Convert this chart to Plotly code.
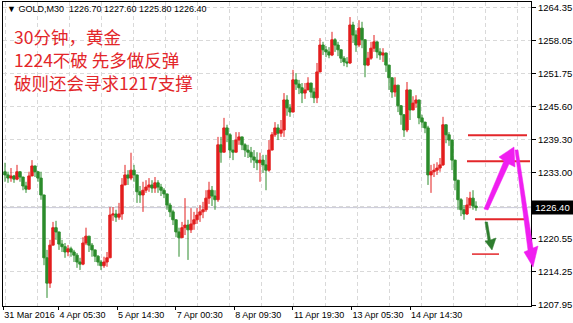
import plotly.graph_objects as go

# ---------------- data ----------------
first_open = 1233.2
close = [1232.6, 1232.0, 1232.4, 1231.8, 1233.2, 1232.2, 1230.5, 1229.9, 1232.4, 1234.3,
         1233.2, 1232.0, 1228.8, 1216.9, 1212.1, 1219.3, 1222.6, 1221.8, 1219.5, 1219.0,
         1218.0, 1218.6, 1218.0, 1217.4, 1216.1, 1215.7, 1219.7, 1221.0, 1219.3, 1218.4,
         1217.2, 1216.1, 1215.4, 1216.1, 1216.9, 1225.0, 1225.2, 1224.6, 1225.2, 1230.7,
         1232.6, 1232.0, 1233.5, 1232.6, 1229.4, 1228.8, 1229.7, 1230.3, 1230.7, 1230.1,
         1231.1, 1230.3, 1229.7, 1229.0, 1226.9, 1225.6, 1224.1, 1221.8, 1220.7, 1222.6,
         1223.1, 1222.2, 1223.3, 1224.1, 1225.0, 1225.6, 1226.0, 1228.2, 1229.7, 1228.6,
         1227.9, 1238.3, 1236.9, 1241.5, 1240.2, 1237.3, 1236.9, 1239.2, 1239.8, 1238.3,
         1237.3, 1236.9, 1236.0, 1235.4, 1234.9, 1235.4, 1234.5, 1233.5, 1237.3, 1240.2,
         1241.5, 1240.5, 1241.1, 1246.8, 1245.3, 1244.5, 1250.6, 1249.8, 1249.1, 1248.1,
         1248.7, 1250.0, 1248.3, 1247.2, 1252.1, 1257.2, 1256.3, 1255.9, 1255.3, 1258.2,
         1257.2, 1256.3, 1254.7, 1254.0, 1253.8, 1261.0, 1259.1, 1257.2, 1260.4, 1258.2,
         1253.4, 1254.7, 1256.6, 1257.8, 1255.9, 1255.3, 1255.7, 1253.4, 1251.0, 1248.3,
         1249.6, 1245.7, 1244.0, 1241.1, 1248.7, 1244.9, 1246.2, 1246.8, 1243.4, 1242.6,
         1241.5, 1232.6, 1233.2, 1233.5, 1233.9, 1234.5, 1242.1, 1240.2, 1239.2, 1235.4,
         1231.6, 1227.9, 1226.0, 1225.2, 1226.9, 1228.2, 1226.7, 1226.4]
high = [1234.9, 1233.2, 1233.9, 1232.6, 1234.5, 1233.2, 1231.6, 1231.3, 1233.2, 1235.4,
        1234.1, 1233.2, 1233.2, 1228.8, 1218.4, 1220.3, 1223.7, 1223.9, 1221.6, 1220.3,
        1219.7, 1219.3, 1219.0, 1218.4, 1217.8, 1216.9, 1220.8, 1222.6, 1220.7, 1219.7,
        1218.4, 1217.4, 1216.5, 1217.1, 1218.0, 1226.5, 1226.5, 1226.0, 1227.3, 1232.0,
        1234.5, 1233.5, 1236.8, 1234.5, 1231.6, 1230.5, 1231.3, 1231.6, 1232.0, 1231.6,
        1232.2, 1231.6, 1230.9, 1230.1, 1228.4, 1227.3, 1226.0, 1223.7, 1222.6, 1223.7,
        1228.2, 1224.1, 1226.3, 1225.6, 1226.3, 1226.9, 1227.5, 1229.7, 1231.3, 1230.5,
        1229.7, 1239.8, 1239.8, 1243.4, 1242.1, 1240.5, 1239.2, 1240.7, 1240.7, 1239.6,
        1238.6, 1238.3, 1237.9, 1237.3, 1236.9, 1236.8, 1236.4, 1236.4, 1239.2, 1240.7,
        1242.6, 1242.2, 1243.0, 1248.1, 1247.7, 1246.0, 1252.5, 1251.9, 1250.6, 1250.0,
        1250.0, 1251.1, 1249.4, 1249.1, 1253.8, 1258.5, 1257.8, 1257.0, 1256.8, 1259.7,
        1258.5, 1257.8, 1255.9, 1255.1, 1254.9, 1262.5, 1261.6, 1260.0, 1261.9, 1261.6,
        1258.2, 1255.9, 1257.8, 1259.1, 1257.8, 1256.6, 1256.6, 1254.7, 1253.2, 1250.6,
        1251.1, 1246.8, 1245.8, 1244.0, 1250.2, 1248.7, 1247.5, 1247.7, 1244.9, 1244.0,
        1242.6, 1241.9, 1234.5, 1234.7, 1235.0, 1235.8, 1243.6, 1242.1, 1240.7, 1238.3,
        1234.5, 1231.6, 1228.2, 1226.9, 1228.4, 1229.4, 1229.7, 1227.6]
low = [1231.3, 1231.1, 1231.3, 1231.1, 1231.6, 1231.3, 1229.7, 1229.2, 1230.7, 1232.6,
       1232.2, 1231.3, 1227.9, 1215.5, 1209.3, 1211.2, 1219.3, 1220.3, 1218.4, 1218.0,
       1216.9, 1217.2, 1217.1, 1216.1, 1215.0, 1214.6, 1215.5, 1219.3, 1218.0, 1217.1,
       1216.1, 1215.4, 1214.6, 1215.0, 1215.2, 1216.9, 1223.9, 1223.7, 1224.1, 1224.1,
       1230.9, 1230.7, 1231.6, 1231.3, 1227.3, 1227.3, 1225.6, 1229.2, 1229.4, 1229.2,
       1229.2, 1229.2, 1228.6, 1228.2, 1226.0, 1224.6, 1223.1, 1220.8, 1217.1, 1220.7,
       1221.2, 1216.5, 1221.6, 1222.2, 1223.3, 1223.7, 1224.4, 1225.6, 1227.1, 1226.7,
       1226.0, 1227.5, 1234.9, 1237.3, 1238.8, 1235.8, 1235.4, 1237.3, 1238.3, 1237.3,
       1236.0, 1235.8, 1234.9, 1233.9, 1233.5, 1231.3, 1233.0, 1229.7, 1233.2, 1237.3,
       1239.8, 1239.2, 1239.8, 1239.8, 1243.8, 1243.6, 1244.5, 1248.7, 1247.9, 1246.2,
       1247.0, 1248.7, 1247.2, 1246.2, 1246.2, 1252.1, 1255.3, 1254.9, 1254.7, 1255.1,
       1255.9, 1255.1, 1253.8, 1253.2, 1253.0, 1253.6, 1257.6, 1255.9, 1256.8, 1256.6,
       1251.1, 1253.2, 1254.4, 1255.9, 1254.7, 1254.4, 1254.0, 1252.1, 1248.7, 1247.2,
       1247.4, 1244.5, 1242.1, 1239.8, 1240.7, 1243.0, 1244.9, 1245.3, 1242.2, 1241.5,
       1240.5, 1230.7, 1229.2, 1232.2, 1232.6, 1233.2, 1234.3, 1238.6, 1238.1, 1233.5,
       1229.7, 1226.0, 1224.8, 1224.1, 1225.0, 1226.3, 1226.0, 1225.8]

date_labels = ["31 Mar 2016", "4 Apr 05:30", "5 Apr 14:30", "7 Apr 00:30",
               "8 Apr 09:30", "11 Apr 19:30", "13 Apr 05:30", "14 Apr 14:30"]
price_ticks = [1264.35, 1258.05, 1251.75, 1245.60, 1239.30, 1233.00, 1226.70,
               1220.55, 1214.25, 1207.95]
price_text = ["1264.35", "1258.05", "1251.75", "1245.60", "1239.30", "1233.00", "",
              "1220.55", "1214.25", "1207.95"]
last_price = 1226.40
header = "GOLD,M30\u00a0\u00a01226.70 1227.60 1225.80 1226.40"
levels_red = [1240.1, 1235.2, 1224.2, 1217.6]
note_lines = ["30分钟，黄金", "1224不破 先多做反弹", "破则还会寻求1217支撑"]

# ---------------- build ----------------
n = len(close)
x = list(range(n))
opens = [first_open] + close[:-1]
hi = [max(h, o, c) for h, o, c in zip(high, opens, close)]
lo = [min(l, o, c) for l, o, c in zip(low, opens, close)]

W, H = 573, 323
L, R, T, B = 3, 42, 2, 17
PW, PH = W - L - R, H - T - B

def px(p):  # pixel x -> paper
    return (p - L) / PW

def py(p):  # pixel y -> paper
    return (H - B - p) / PH

def bx(p):  # pixel x -> bar axis
    return (p - 5) / 3.0

RED = "#e3262a"
UP = "#e31e1e"
DN = "#2c8c2c"
MAG = "#f01ef0"

fig = go.Figure(go.Candlestick(
    x=x, open=opens, high=hi, low=lo, close=close,
    increasing=dict(line=dict(color=UP, width=1), fillcolor=UP),
    decreasing=dict(line=dict(color=DN, width=1), fillcolor=DN),
    whiskerwidth=0, hoverinfo="skip", showlegend=False))

tickpos = [bx(3.3)] + [bx(58.5 + 58.6 * k) for k in range(7)]

fig.update_layout(
    width=W, height=H, margin=dict(l=L, r=R, t=T, b=B),
    paper_bgcolor="white", plot_bgcolor="white",
    boxgap=0.2, boxgroupgap=0,
    font=dict(family="Liberation Sans", size=9, color="black"),
    xaxis=dict(range=[bx(L), bx(W - R)], rangeslider=dict(visible=False),
               tickmode="array", tickvals=tickpos, ticktext=date_labels,
               tickangle=0, automargin=False,
               ticks="outside", ticklen=3, tickcolor="black",
               ticklabelposition="outside right",
               tickfont=dict(size=9, family="Liberation Sans"),
               showgrid=False, zeroline=False,
               showline=True, linecolor="black", linewidth=1, mirror=True,
               minor=dict(tickmode="linear", tick0=0, dtick=32 / 3.0,
                          showgrid=True, gridcolor="#d9d9d9",
                          griddash="4px,3px", gridwidth=1, ticks="")),
    yaxis=dict(range=[1207.77, 1265.35], side="right", automargin=False,
               tickmode="array", tickvals=price_ticks, ticktext=price_text,
               ticks="outside", ticklen=4, tickcolor="black",
               tickfont=dict(size=9.5, family="Liberation Sans"),
               showgrid=True, gridcolor="#d9d9d9", griddash="4px,3px",
               zeroline=False,
               showline=True, linecolor="black", linewidth=1, mirror=True),
)

shapes = []
# bid line
shapes.append(dict(type="line", xref="paper", yref="y", x0=0, x1=1,
                   y0=last_price, y1=last_price,
                   line=dict(color="#c9c9d6", width=1), layer="below"))
# red level lines
spans = [(468, 527, 2), (467, 530, 2), (475, 527, 2), (472, 499, 1.5)]
for lev, (a, b, w) in zip(levels_red, spans):
    shapes.append(dict(type="line", xref="x", yref="y", x0=bx(a), x1=bx(b),
                       y0=lev, y1=lev, line=dict(color=RED, width=w)))

def poly(pts, color):
    d = "M " + " L ".join(f"{px(a):.5f},{py(b):.5f}" for a, b in pts) + " Z"
    return dict(type="path", xref="paper", yref="paper", path=d,
                fillcolor=color, line=dict(color=color, width=0.5))

shapes.append(poly([(484, 209), (504, 161), (499, 157), (514, 147),
                    (515, 167), (509, 164), (488, 210)], MAG))
shapes.append(poly([(515, 150), (528, 250.3), (524, 252), (533, 267),
                    (538, 246), (533, 248.1), (518, 150)], MAG))
shapes.append(poly([(485, 222), (488, 240.5), (485, 241), (492, 250),
                    (496, 238), (490.5, 240), (487.5, 222)], "#2e7d2e"))
fig.update_layout(shapes=shapes)

ann = []
ann.append(dict(xref="paper", yref="paper", x=px(5), y=py(9), xanchor="left",
                yanchor="middle", showarrow=False, text="\u25bc " + header,
                font=dict(size=9, color="black", family="Liberation Sans")))
ann.append(dict(xref="paper", yref="paper", x=px(12), y=py(60),
                xanchor="left", yanchor="middle", align="left", showarrow=False,
                text="<br>".join(note_lines),
                font=dict(size=17.5, color=RED, family="Noto Sans CJK SC")))
ann.append(dict(xref="paper", yref="y", x=1, y=last_price, xanchor="left",
                yanchor="middle", showarrow=False, text=f"{last_price:.2f}",
                bgcolor="black", width=39, height=11, borderpad=1,
                font=dict(size=9.5, color="white", family="Liberation Sans")))
fig.update_layout(annotations=ann)

fig.write_html("out.html")
